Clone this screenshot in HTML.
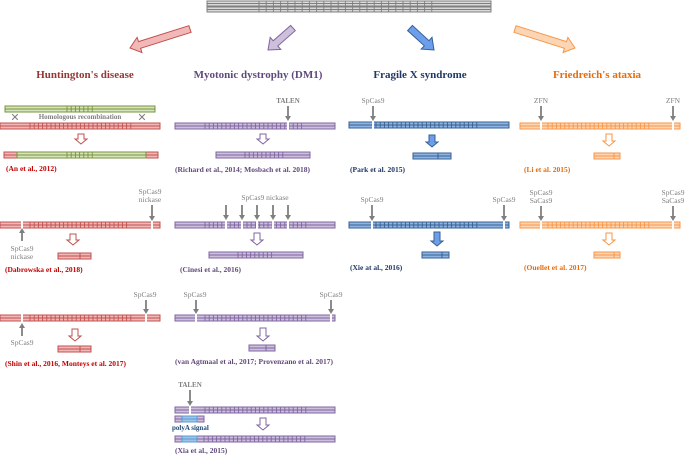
<!DOCTYPE html>
<html><head><meta charset="utf-8"><style>
html,body{margin:0;padding:0;background:#fff;width:685px;height:456px;overflow:hidden}
svg{display:block}
text{font-family:"Liberation Serif",serif}
</style></head><body>
<svg id="s" width="685" height="456" viewBox="0 0 685 456" xmlns="http://www.w3.org/2000/svg"></svg>
<script>
const S=document.getElementById('s');let h='';
const C={r:['#f2b8b8','#c0504d'],g:['#d7e4bd','#77933c'],p:['#ccc0da','#8064a2'],b:['#8eb4e3','#376092'],o:['#fcd5b5','#f79646'],k:['#d9d9d9','#7f7f7f'],lb:['#9dc3e6','#5b9bd5']};
function seg(x1,x2,y,hh,c){const [f,s]=C[c];h+=`<rect x="${x1}" y="${y}" width="${x2-x1}" height="${hh}" fill="${f}" stroke="${s}" stroke-width="1"/><line x1="${x1}" x2="${x2}" y1="${y+hh/2}" y2="${y+hh/2}" stroke="${s}" stroke-width="1"/>`;}
function rep(x1,x2,y,hh,c,step){const s=C[c][1];step=step||4.2;for(let x=x1;x<=x2;x+=step)h+=`<line x1="${x}" x2="${x}" y1="${y}" y2="${y+hh}" stroke="${s}" stroke-width="0.9"/>`;}
function bar(x1,x2,y,c,r1,r2,cuts,hh){hh=hh||6;seg(x1,x2,y,hh,c);if(r1!=null)rep(r1,r2,y,hh,c);(cuts||[]).forEach(x=>h+=`<rect x="${x-1}" y="${y-0.5}" width="2" height="${hh+1}" fill="#fff"/>`);}
function gArr(x,y1,y2){const d=y2>y1?1:-1;h+=`<line x1="${x}" x2="${x}" y1="${y1}" y2="${y2-d*4}" stroke="#7f7f7f" stroke-width="1.8"/><polygon points="${x-3},${y2-d*5} ${x+3},${y2-d*5} ${x},${y2}" fill="#7f7f7f"/>`;}
function dArr(x,y1,y2,c){const [f,s]=C[c];const m=y2-5;h+=`<polygon points="${x-3},${y1} ${x+3},${y1} ${x+3},${m} ${x+6},${m} ${x},${y2} ${x-6},${m} ${x-3},${m}" fill="${c=='b'?'#6d9eeb':'#fff'}" fill-opacity="${c=='b'?1:0.6}" stroke="${s}" stroke-width="1"/>`;}
function t(x,y,s,col,sz,anc,b){h+=`<text x="${x}" y="${y}" fill="${col}" font-size="${sz||7.5}" ${anc?`text-anchor="${anc}"`:''} ${b?'font-weight="bold"':''}>${s}</text>`;}
function big(x1,y1,x2,y2,c){const [f,s]=C[c];const dx=x2-x1,dy=y2-y1,L=Math.hypot(dx,dy),ux=dx/L,uy=dy/L,nx=-uy,ny=ux;const w=3.5,hw=8,hl=10;const bx=x2-ux*hl,by=y2-uy*hl;const P=[[x1+nx*w,y1+ny*w],[bx+nx*w,by+ny*w],[bx+nx*hw,by+ny*hw],[x2,y2],[bx-nx*hw,by-ny*hw],[bx-nx*w,by-ny*w],[x1-nx*w,y1-ny*w]];h+=`<polygon points="${P.map(p=>p.map(v=>v.toFixed(1)).join(',')).join(' ')}" fill="${c=='b'?'#6d9eeb':f}" stroke="${s}" stroke-width="1"/>`;}
seg(207,491,1,5,'k');seg(207,491,7,5,'k');rep(259,438,1,11,'k',7.2);
big(190,29,130,48,'r');big(293,28,268,50,'p');big(410,28,434,50,'b');big(515,29,575,48,'o');
t(85,78,"Huntington's disease",'#953735',11,'middle',1);
t(258,78,"Myotonic dystrophy (DM1)",'#604a7b',11,'middle',1);
t(420,78,"Fragile X syndrome",'#1f3864',11,'middle',1);
t(597,78,"Friedreich's ataxia",'#e46c0a',11,'middle',1);
const R='#c00000',P='#604a7b',B='#1f3864',O='#e46c0a',G='#7f7f7f';
bar(5,155,106,'g',67,93);
h+=`<text x="15" y="121" fill="#7f7f7f" font-size="11" text-anchor="middle">✕</text><text x="142" y="121" fill="#7f7f7f" font-size="11" text-anchor="middle">✕</text>`;
t(80,119,'Homologous recombination',G,7,'middle',1);
bar(0,160,123,'r',30,131);
dArr(81,134,144,'r');
seg(4,158,152,6,'r');seg(17,146,152,6,'g');rep(67,93,152,6,'g');
t(6,171,'(An et al., 2012)',R,7.5,null,1);
t(150,194,'SpCas9',G,7.5,'middle');t(150,202,'nickase',G,7.5,'middle');gArr(152,205,221);
bar(0,160,222,'r',30,130,[22,152]);gArr(22,241,228);
t(22,251,'SpCas9',G,7.5,'middle');t(22,259,'nickase',G,7.5,'middle');
dArr(73,234,245,'r');bar(58,91,253,'r');h+=`<line x1="80" x2="80" y1="253" y2="259" stroke="#c0504d"/>`;
t(5,272,'(Dabrowska et al., 2018)',R,7.5,null,1);
t(145,297,'SpCas9',G,7.5,'middle');gArr(146,300,314);
bar(0,160,315,'r',30,131,[22,146]);gArr(22,336,323);t(22,345,'SpCas9',G,7.5,'middle');
dArr(75,329,341,'r');bar(58,91,346,'r');h+=`<line x1="80" x2="80" y1="346" y2="352" stroke="#c0504d"/>`;
t(5,366,'(Shin et al., 2016, Monteys et al. 2017)',R,7.5,null,1);
t(288,103,'TALEN',G,7,'middle',1);gArr(288,106,121);
bar(175,335,123,'p',205,305,[288]);dArr(263,134,144,'p');
bar(216,310,152,'p',245,283);t(175,172,'(Richard et al., 2014; Mosbach et al. 2018)',P,7.5,null,1);
t(265,200,'SpCas9 nickase',G,7.5,'middle');[226,242,257,273,288].forEach(x=>gArr(x,205,220));
bar(175,335,222,'p',205,307,[226,242,257,273,288]);dArr(257,233,245,'p');
bar(209,303,252,'p',238,275);t(180,272,'(Cinesi et al., 2016)',P,7.5,null,1);
t(195,297,'SpCas9',G,7.5,'middle');t(331,297,'SpCas9',G,7.5,'middle');gArr(196,300,314);gArr(331,300,314);
bar(175,335,315,'p',205,307,[196,331]);dArr(263,328,341,'p');
bar(249,275,345,'p');h+=`<line x1="266" x2="266" y1="345" y2="351" stroke="#8064a2"/>`;
t(175,364,'(van Agtmaal et al., 2017; Provenzano et al. 2017)',P,7.5,null,1);
t(190,387,'TALEN',G,7,'middle',1);gArr(190,390,406);
bar(175,335,407,'p',205,307,[190]);
seg(175,204,416,6,'p');seg(182,197,416,6,'lb');
t(172,430,'polyA signal','#1f497d',7,null,1);dArr(263,418,430,'p');
bar(175,335,436,'p',204,307);seg(182,197,436,6,'lb');
t(175,453,'(Xia et al., 2015)',P,7.5,null,1);
t(373,103,'SpCas9',G,7.5,'middle');gArr(373,106,121);
bar(349,509,122,'b',376,478,[373]);dArr(432,135,147,'b');
bar(413,451,153,'b');h+=`<line x1="438" x2="438" y1="153" y2="159" stroke="#376092"/>`;
t(350,172,'(Park et al. 2015)',B,7.5,null,1);
t(372,202,'SpCas9',G,7.5,'middle');t(504,202,'SpCas9',G,7.5,'middle');gArr(372,205,221);gArr(504,205,221);
bar(349,509,222,'b',376,480,[372,504]);dArr(437,232,246,'b');
bar(422,449,252,'b');h+=`<line x1="442" x2="442" y1="252" y2="258" stroke="#376092"/>`;
t(350,270,'(Xie at al., 2016)',B,7.5,null,1);
t(541,103,'ZFN',G,7.5,'middle');t(673,103,'ZFN',G,7.5,'middle');gArr(541,106,121);gArr(673,106,121);
bar(520,680,123,'o',548,651,[541,673]);dArr(609,134,146,'o');
bar(594,620,153,'o');h+=`<line x1="614" x2="614" y1="153" y2="159" stroke="#f79646"/>`;
t(524,172,'(Li et al. 2015)',O,7.5,null,1);
t(541,195,'SpCas9',G,7.5,'middle');t(541,203,'SaCas9',G,7.5,'middle');t(673,195,'SpCas9',G,7.5,'middle');t(673,203,'SaCas9',G,7.5,'middle');
gArr(541,206,221);gArr(673,206,221);
bar(520,680,222,'o',548,651,[541,673]);dArr(609,233,245,'o');
bar(594,620,252,'o');h+=`<line x1="614" x2="614" y1="252" y2="258" stroke="#f79646"/>`;
t(524,270,'(Ouellet et al. 2017)',O,7.5,null,1);
S.innerHTML=h;
</script>
</body></html>
